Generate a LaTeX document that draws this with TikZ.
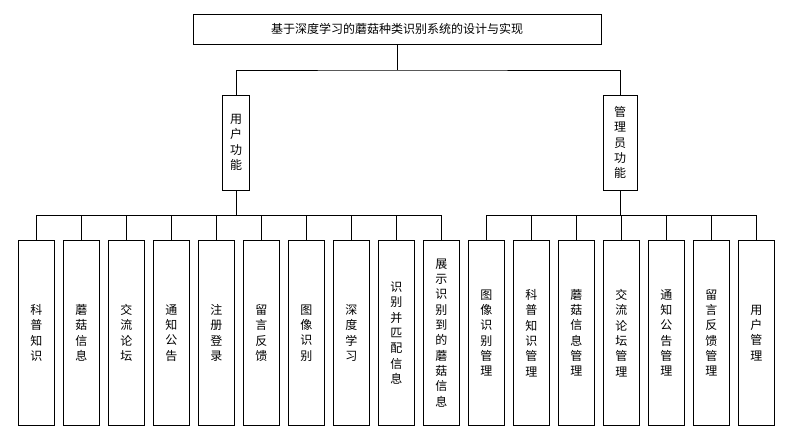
\documentclass[tikz,border=0pt]{standalone}
\usepackage{fontspec}
\setmainfont{Noto Sans CJK SC}
\begin{document}
\begin{tikzpicture}[x=0.75pt,y=-0.75pt,
  box/.style={draw,line width=0.6pt,inner sep=0pt,font=\fontsize{9}{11.5}\selectfont,align=center},
  leaf/.style={box,minimum width=27pt,minimum height=138.75pt,anchor=north west},
  ln/.style={line width=0.6pt}]
\useasboundingbox (0,0) rectangle (795,443);
\node[box,minimum width=306pt,minimum height=22.5pt] (root) at (397,29) {基于深度学习的蘑菇种类识别系统的设计与实现};
\node[box,minimum width=20.25pt,minimum height=71.25pt] (u) at (236,142.5) {用\\户\\功\\能};
\node[box,minimum width=25.5pt,minimum height=71.25pt] (a) at (620,142.5) {管\\理\\员\\功\\能};
\coordinate (j) at (397,70);
\draw[ln] (root.south) -- (j);
\draw[ln] (u.north) |- (j) -| (a.north);
\foreach \t [count=\i] in {科\\普\\知\\识,蘑\\菇\\信\\息,交\\流\\论\\坛,通\\知\\公\\告,注\\册\\登\\录,留\\言\\反\\馈,图\\像\\识\\别,深\\度\\学\\习,识\\别\\并\\匹\\配\\信\\息,展\\示\\识\\别\\到\\的\\蘑\\菇\\信\\息}{
  \node[leaf] (u\i) at ({18+45*(\i-1)},240) {\t};
  \draw[ln] (u.south) -- (236,215) -| (u\i.north);
}
\foreach \t [count=\i] in {图\\像\\识\\别\\管\\理,科\\普\\知\\识\\管\\理,蘑\\菇\\信\\息\\管\\理,交\\流\\论\\坛\\管\\理,通\\知\\公\\告\\管\\理,留\\言\\反\\馈\\管\\理,用\\户\\管\\理}{
  \node[leaf] (a\i) at ({468+45*(\i-1)},240) {\t};
  \draw[ln] (a.south) -- (620,215) -| (a\i.north);
}
\end{tikzpicture}
\end{document}
